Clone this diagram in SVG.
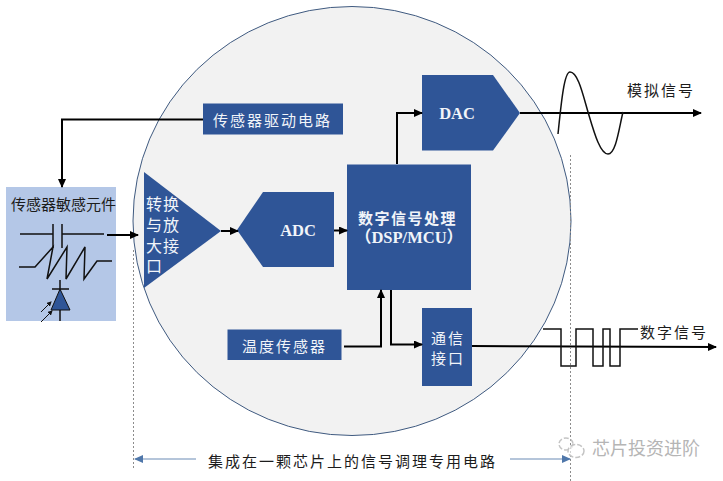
<svg xmlns="http://www.w3.org/2000/svg" width="723" height="481" viewBox="0 0 723 481">
<style>
text{font-family:"Liberation Serif","Noto Sans CJK SC",serif;font-size:15px;letter-spacing:2px}
.w{fill:#f1f4f9}
.k{fill:#1c1c1c}
.b{fill:#2f5597}
.l{fill:#f1f4f9;font-weight:700;letter-spacing:0;font-size:16.500px}
.c{fill:none;stroke:#000;stroke-width:2}
.s{fill:none;stroke:#111;stroke-width:1.500}
.d{fill:none;stroke:#8c8c8c;stroke-width:1;stroke-dasharray:2 2}
</style>
<defs>
<marker id="a" markerUnits="userSpaceOnUse" markerWidth="9" markerHeight="8" refX="8" refY="4" orient="auto"><path d="M0 0L9 4L0 8z" fill="#000"/></marker>
<marker id="g" markerUnits="userSpaceOnUse" markerWidth="9" markerHeight="8" refX="8" refY="4" orient="auto"><path d="M0 0L9 4L0 8z" fill="#4f77aa"/></marker>
<marker id="p" markerUnits="userSpaceOnUse" markerWidth="5" markerHeight="5" refX="4" refY="2.500" orient="auto"><path d="M0 0L5 2.500L0 5z" fill="#111"/></marker>
</defs>
<rect width="723" height="481" fill="#fff"/>
<g id="chip"><ellipse cx="352" cy="221" rx="219" ry="214.500" fill="#f2f2f2" stroke="#3f5a80" stroke-width="1"/></g>
<g id="sensor">
<rect x="6" y="187" width="110" height="134" fill="#b4c7e7"/>
<text class="k" x="11" y="210" style="letter-spacing:0">传感器敏感元件</text>
<path class="s" d="M20 234H53M53 224V248M62 224V248M62 234H104"/>
<path class="s" d="M19 267H35L53 247L47 279L67 247L66 279L85 247L84 279L97 261H112"/>
<path class="s" d="M60 280V321M52 289H69"/>
<path class="s" style="stroke-width:1" marker-end="url(#p)" d="M41 312L51 302"/>
<path class="s" style="stroke-width:1" marker-end="url(#p)" d="M41 322L52 311"/>
<path d="M60 289L70 310H51z" fill="#2f5597" stroke="#111"/>
</g>
<g id="amp"><path class="b" d="M144 172L221 231L144 288z"/>
<text class="w" x="146" y="210" style="font-size:16px;letter-spacing:1px">转换</text>
<text class="w" x="146" y="231" style="font-size:16px;letter-spacing:1px">与放</text>
<text class="w" x="146" y="252" style="font-size:16px;letter-spacing:1px">大接</text>
<text class="w" x="146" y="272" style="font-size:16px;letter-spacing:1px">口</text></g>
<g id="adc"><path class="b" d="M237 230L263 192H334V267H263z"/><text class="l" x="298" y="236" text-anchor="middle">ADC</text></g>
<g id="dsp"><rect class="b" x="347" y="164.500" width="124" height="125.500"/>
<text class="w" x="358" y="224" style="font-weight:700;letter-spacing:1.500px">数字信号处理</text>
<text class="l" x="409" y="243" text-anchor="middle">（DSP/MCU）</text></g>
<g id="dac"><path class="b" d="M422 75H493L520 113L493 150.500H422z"/><text class="l" x="457" y="119" text-anchor="middle">DAC</text></g>
<g id="driver"><rect class="b" x="203" y="103.500" width="140" height="31"/><text class="w" x="213" y="125.500">传感器驱动电路</text></g>
<g id="temp"><rect class="b" x="227.500" y="329.500" width="114" height="30.500"/><text class="w" x="242" y="351.500">温度传感器</text></g>
<g id="comm"><rect class="b" x="422" y="308" width="50" height="78"/><text class="w" x="431" y="343.500">通信</text><text class="w" x="431" y="363.500">接口</text></g>
<g id="connectors">
<path class="c" marker-end="url(#a)" d="M203 119.500H62V187"/>
<path class="c" marker-end="url(#a)" d="M107 235H138"/>
<path class="c" marker-end="url(#a)" d="M221 231H238"/>
<path class="c" marker-end="url(#a)" d="M334 230.500H347"/>
<path class="c" marker-end="url(#a)" d="M397 164V113H422"/>
<path class="c" marker-end="url(#a)" d="M344 346.500H381V290"/>
<path class="c" marker-end="url(#a)" d="M391 290V344.500H422"/>
<path class="c" marker-end="url(#a)" d="M472 346L716 347"/>
<path class="c" marker-end="url(#a)" d="M520 113H701"/>
</g>
<g id="signals">
<path class="s" d="M558 134C561 105 564 72 570 72C578 72 583 95 588 112C594 132 600 154 608 154C616 154 619 128 623 112"/>
<path class="s" d="M543 329H561V366H576V329H593V366H603V329H610V366H620V329H638"/>
<text class="k" x="627" y="95.500">模拟信号</text>
<text class="k" x="640" y="337.500">数字信号</text>
</g>
<g id="span">
<path class="d" d="M133.500 250V470M570.500 155V481"/>
<path d="M196 459H135" fill="none" stroke="#6a8bb5" marker-end="url(#g)"/>
<path d="M510 459H570" fill="none" stroke="#6a8bb5" marker-end="url(#g)"/>
<text class="k" x="208" y="467">集成在一颗芯片上的信号调理专用电路</text>
</g>
<g id="watermark">
<ellipse cx="566" cy="444" rx="7" ry="6" fill="none" stroke="#c4c4c4" stroke-width="1.500" stroke-dasharray="5 2"/>
<ellipse cx="576" cy="451" rx="8" ry="6.500" fill="#fff" fill-opacity=".6" stroke="#c4c4c4" stroke-width="1.500" stroke-dasharray="5 2"/>
<text x="592" y="455" style="font-size:18px;letter-spacing:0;fill:#b5b5b5">芯片投资进阶</text>
</g>
</svg>
